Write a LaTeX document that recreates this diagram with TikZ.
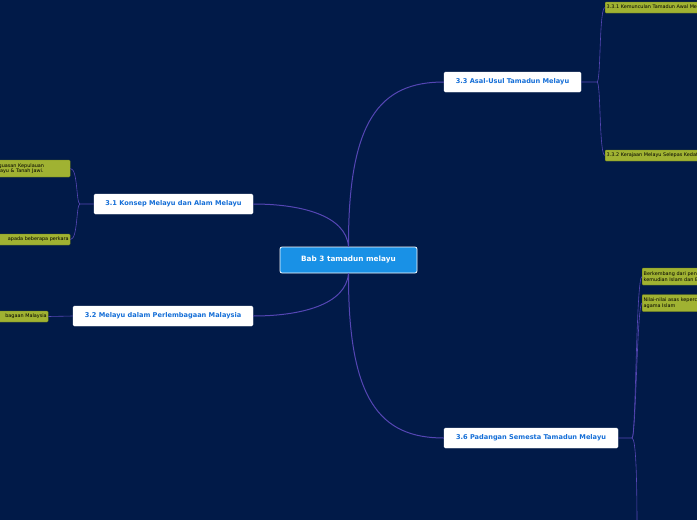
\documentclass[tikz,border=0pt]{standalone}
\usepackage{fontspec}
\setmainfont{DejaVu Sans}
\begin{document}
\begin{tikzpicture}[x=1pt,y=-1pt,
  topic/.style={draw=white,fill=white,rounded corners=1.5pt,inner sep=0pt,minimum height=20pt,text={rgb,255:red,20;green,110;blue,215},font=\bfseries\fontsize{6.6}{7}\selectfont},
  leaf/.style={draw={rgb,255:red,110;green,125;blue,20},fill={rgb,255:red,160;green,178;blue,50},rounded corners=1pt,inner sep=1.5pt,align=left,text=black,font=\fontsize{4.9}{5.6}\selectfont,anchor=west},
  conn/.style={draw={rgb,255:red,85;green,70;blue,180},line width=1pt}]
\fill[fill={rgb,255:red,1;green,26;blue,72}] (0,0) rectangle (697,520);
\useasboundingbox (0,0) rectangle (697,520);
\clip (0,0) rectangle (697,520);
\node[draw=white,line width=0.8pt,fill={rgb,255:red,25;green,145;blue,230},rounded corners=2pt,minimum width=137pt,minimum height=26pt,text=white,font=\bfseries\fontsize{7.3}{8}\selectfont] (c) at (348.5,260) {Bab 3 tamadun melayu};
\node[topic,minimum width=137pt] (t33) at (512.5,82) {3.3 Asal-Usul Tamadun Melayu};
\node[topic,minimum width=159pt] (t31) at (173.5,204) {3.1 Konsep Melayu dan Alam Melayu};
\node[topic,minimum width=180pt] (t32) at (163,316) {3.2 Melayu dalam Perlembagaan Malaysia};
\node[topic,minimum width=174pt] (t36) at (531,438) {3.6 Padangan Semesta Tamadun Melayu};
\node[leaf,minimum height=11pt,text width=170pt] (l331) at (605,7.5) {3.3.1 Kemunculan Tamadun Awal Melayu};
\node[leaf,minimum height=11pt,text width=170pt] (l332) at (605,155.5) {3.3.2 Kerajaan Melayu Selepas Kedatangan Islam};
\node[leaf,minimum height=17pt,text width=100pt] (l361) at (642,276.5) {Berkembang dari pengaruh\\kemudian Islam dan Barat};
\node[leaf,minimum height=17pt,text width=100pt] (l362) at (642,303) {Nilai-nilai asas kepercayaan\\agama Islam};
\node[leaf,minimum height=17pt,text width=70pt] (l311) at (-3,168.5) {guasan Kepulauan\\layu \& Tanah Jawi.};
\node[leaf,minimum height=11pt,text width=70pt,align=right] (l312) at (-3,239.5) {apada beberapa perkara};
\node[leaf,minimum height=11pt,text width=48pt,align=right] (l321) at (-3,316.5) {bagaan Malaysia};
\coordinate (b33) at (597,82);
\coordinate (b31) at (80,204);
\coordinate (b36) at (632,438);
\coordinate (l363) at (637,530);
\draw[conn] (c.north) .. controls (348,120) and (380,82) .. (t33.west);
\draw[conn] (c.north) .. controls (346,215) and (300,204) .. (t31.east);
\draw[conn] (c.south) .. controls (346,305) and (300,316) .. (t32.east);
\draw[conn] (c.south) .. controls (348,400) and (380,438) .. (t36.west);
\draw[conn,line width=0.6pt] (t33.east) -- (b33) .. controls (601,82) and (599,7.5) .. (l331.west);
\draw[conn,line width=0.6pt] (b33) .. controls (601,82) and (599,155.5) .. (l332.west);
\draw[conn,line width=0.6pt] (t31.west) -- (b31) .. controls (76,204) and (78,168.5) .. (l311.east);
\draw[conn,line width=0.6pt] (b31) .. controls (76,204) and (78,239.5) .. (l312.east);
\draw[conn,line width=0.6pt] (t32.west) -- (l321.east);
\draw[conn,line width=0.6pt] (t36.east) -- (b36) .. controls (636,438) and (636,276.5) .. (l361.west);
\draw[conn,line width=0.6pt] (b36) .. controls (636,438) and (637,303) .. (l362.west);
\draw[conn,line width=0.6pt] (b36) .. controls (636,438) and (637,480) .. (l363);
\end{tikzpicture}
\end{document}
